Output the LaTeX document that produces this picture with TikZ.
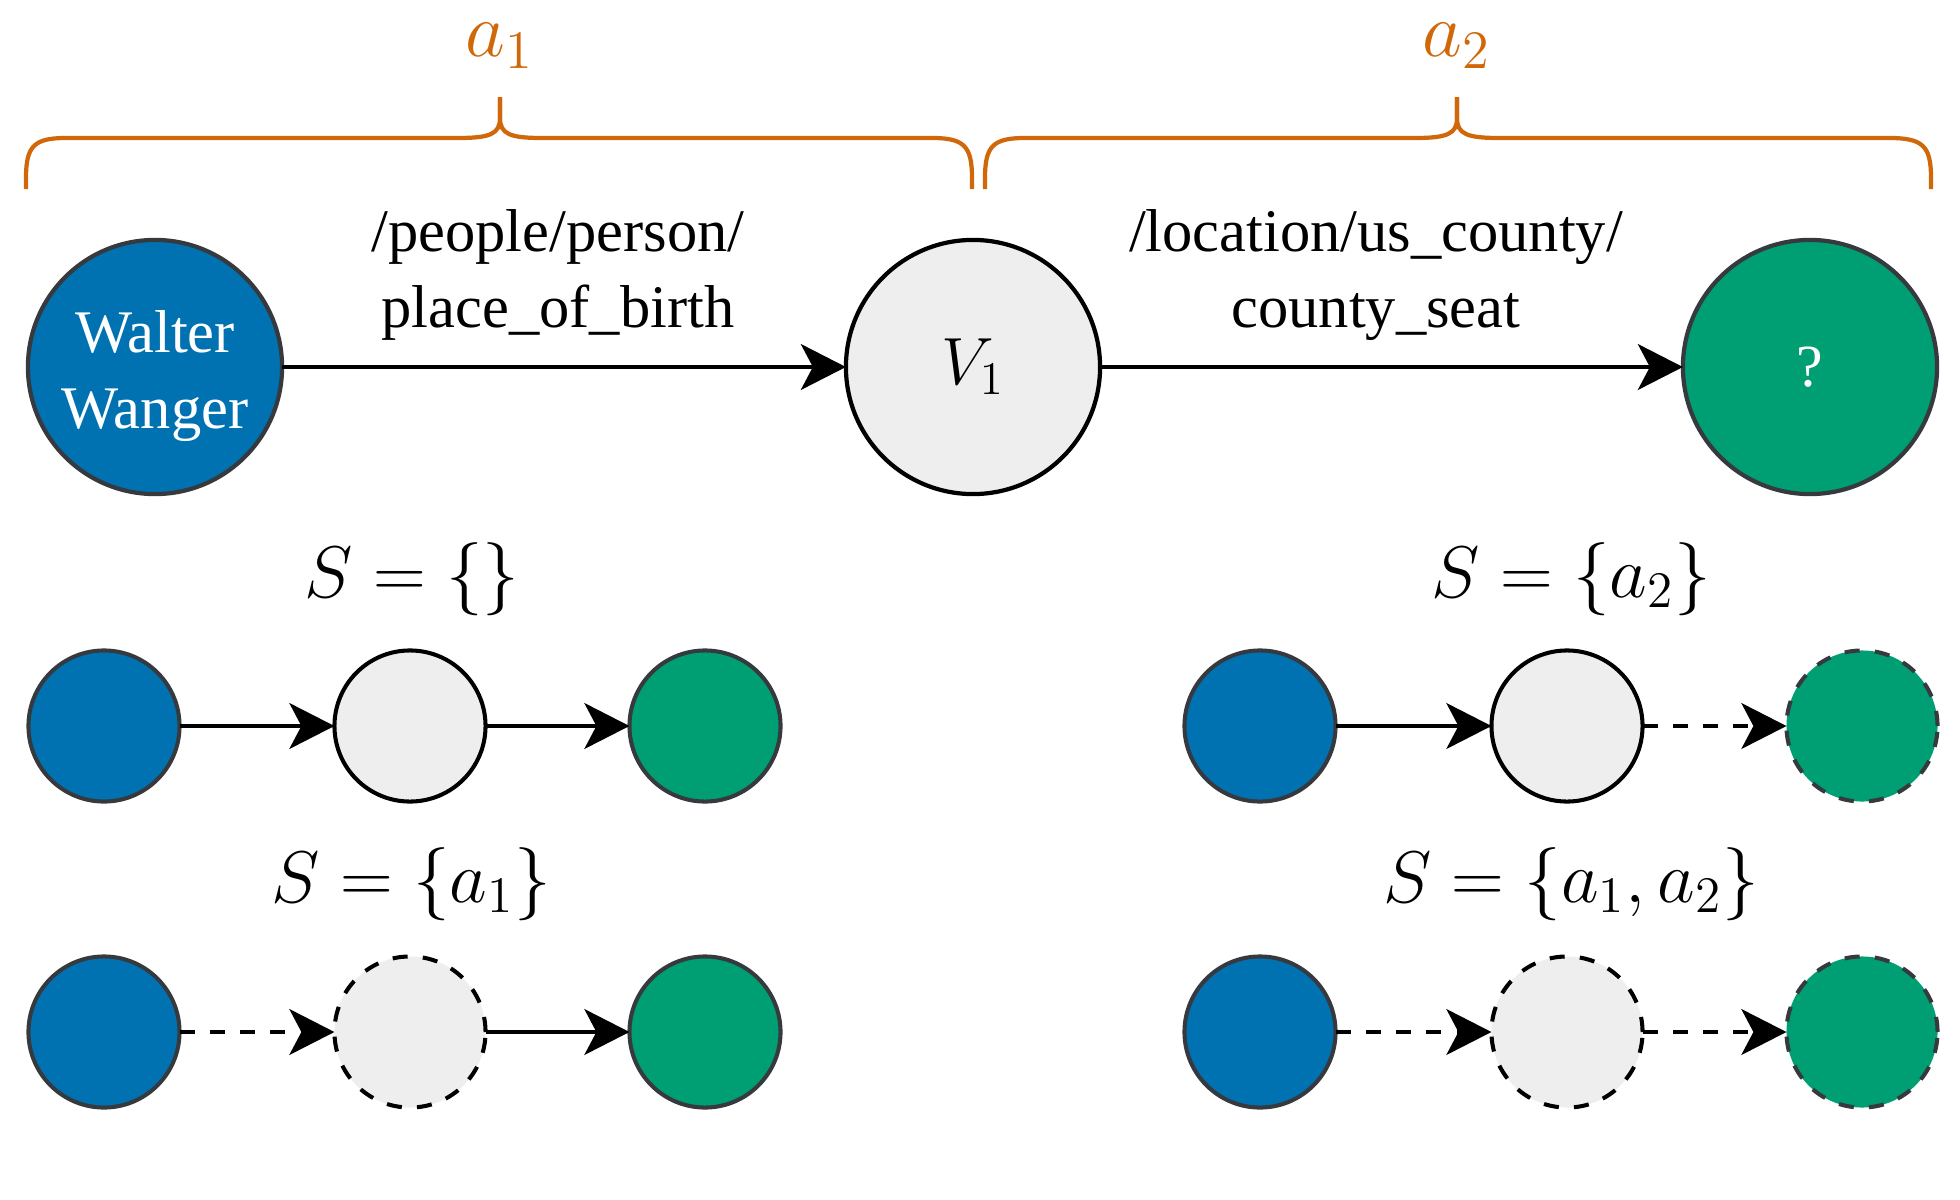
\RequirePackage{fix-cm}
\documentclass[tikz,border=0pt]{standalone}
\usepackage{fontspec}
\setmainfont{Liberation Serif}
\usetikzlibrary{arrows.meta}
\definecolor{cblue}{HTML}{0072B2}
\definecolor{cgreen}{HTML}{009E73}
\definecolor{cgray}{HTML}{EEEEEE}
\definecolor{cborder}{HTML}{36393D}
\definecolor{corange}{HTML}{D0680A}
\begin{document}
\begin{tikzpicture}[x=0.01cm,y=-0.01cm,
  every node/.style={inner sep=0pt, outer sep=0pt},
  bigc/.style={circle, minimum size=2.54cm, line width=1.2pt},
  smallc/.style={circle, minimum size=1.51cm, line width=1.15pt},
  ent/.style={fill=cblue, draw=cborder},
  midn/.style={fill=cgray, draw=black},
  ans/.style={fill=cgreen, draw=cborder},
  dsh/.style={dash pattern=on 4.3pt off 4.3pt},
  arr/.style={line width=1.2pt, -{Stealth[length=12.8pt, width=13pt, inset=3.4pt]}},
  lbl/.style={font=\fontsize{17.2}{21.6}\selectfont, align=center},
  mlbl/.style={font=\fontsize{20.8}{25}\selectfont},
  alabel/.style={font=\fontsize{22}{26}\selectfont, text=corange, anchor=base},
  brace/.style={draw=corange, line width=1.2pt},
]
\fill[white] (0,0) rectangle (1960,1200);
\useasboundingbox (0,0) rectangle (1960,1200);

% braces
\draw[brace] (26,189) -- (26,178) .. controls (26,146) and (34,138) .. (66,138) -- (458,138) .. controls (490,138) and (500,134) .. (500,118) -- (500,97);
\draw[brace] (500,97) -- (500,118) .. controls (500,134) and (510,138) .. (542,138) -- (932,138) .. controls (964,138) and (972,146) .. (972,178) -- (972,189);
\draw[brace] (985,189) -- (985,178) .. controls (985,146) and (993,138) .. (1025,138) -- (1415,138) .. controls (1447,138) and (1457,134) .. (1457,118) -- (1457,97);
\draw[brace] (1457,97) -- (1457,118) .. controls (1457,134) and (1467,138) .. (1499,138) -- (1889,138) .. controls (1923,138) and (1931,146) .. (1931,178) -- (1931,189);
\node[alabel] (a1) at (500,57) {$a_1$};
\node[alabel] (a2) at (1457,57) {$a_2$};

% top chain
\node[bigc, ent, label={[lbl, text=white, yshift=-0.09cm]center:Walter\\Wanger}] (w) at (155,367) {};
\node[bigc, midn, font=\fontsize{19}{23}\selectfont] (v) at (973,367) {$V_1$};
\node[bigc, ans, text=white, font=\fontsize{17}{22}\selectfont] (q) at (1810,367) {?};
\draw[arr] (w) -- (v);
\draw[arr] (v) -- (q);
\node[lbl] (r1) at (558,275) {/people/person/\\place\_of\_birth};
\node[lbl] (r2) at (1376,275) {/location/us\_county/\\county\_seat};

% S = {}
\node[mlbl, anchor=base] (s1) at (412,597) {$S=\{\}$};
\node[smallc, ent] (b1) at (104,726) {};
\node[smallc, midn] (m1) at (410,726) {};
\node[smallc, ans] (g1) at (705,726) {};
\draw[arr] (b1) -- (m1);
\draw[arr] (m1) -- (g1);

% S = {a1}
\node[mlbl, anchor=base] (s2) at (411,902) {$S=\{a_1\}$};
\node[smallc, ent] (b2) at (104,1032) {};
\node[smallc, midn, dsh] (m2) at (410,1032) {};
\node[smallc, ans] (g2) at (705,1032) {};
\draw[arr, dsh] (b2) -- (m2);
\draw[arr] (m2) -- (g2);

% S = {a2}
\node[mlbl, anchor=base] (s3) at (1571,597) {$S=\{a_2\}$};
\node[smallc, ent] (b3) at (1260,726) {};
\node[smallc, midn] (m3) at (1567,726) {};
\node[smallc, ans, dsh] (g3) at (1862,726) {};
\draw[arr] (b3) -- (m3);
\draw[arr, dsh] (m3) -- (g3);

% S = {a1, a2}
\node[mlbl, anchor=base] (s4) at (1571,902) {$S=\{a_1,a_2\}$};
\node[smallc, ent] (b4) at (1260,1032) {};
\node[smallc, midn, dsh] (m4) at (1567,1032) {};
\node[smallc, ans, dsh] (g4) at (1862,1032) {};
\draw[arr, dsh] (b4) -- (m4);
\draw[arr, dsh] (m4) -- (g4);
\end{tikzpicture}
\end{document}
